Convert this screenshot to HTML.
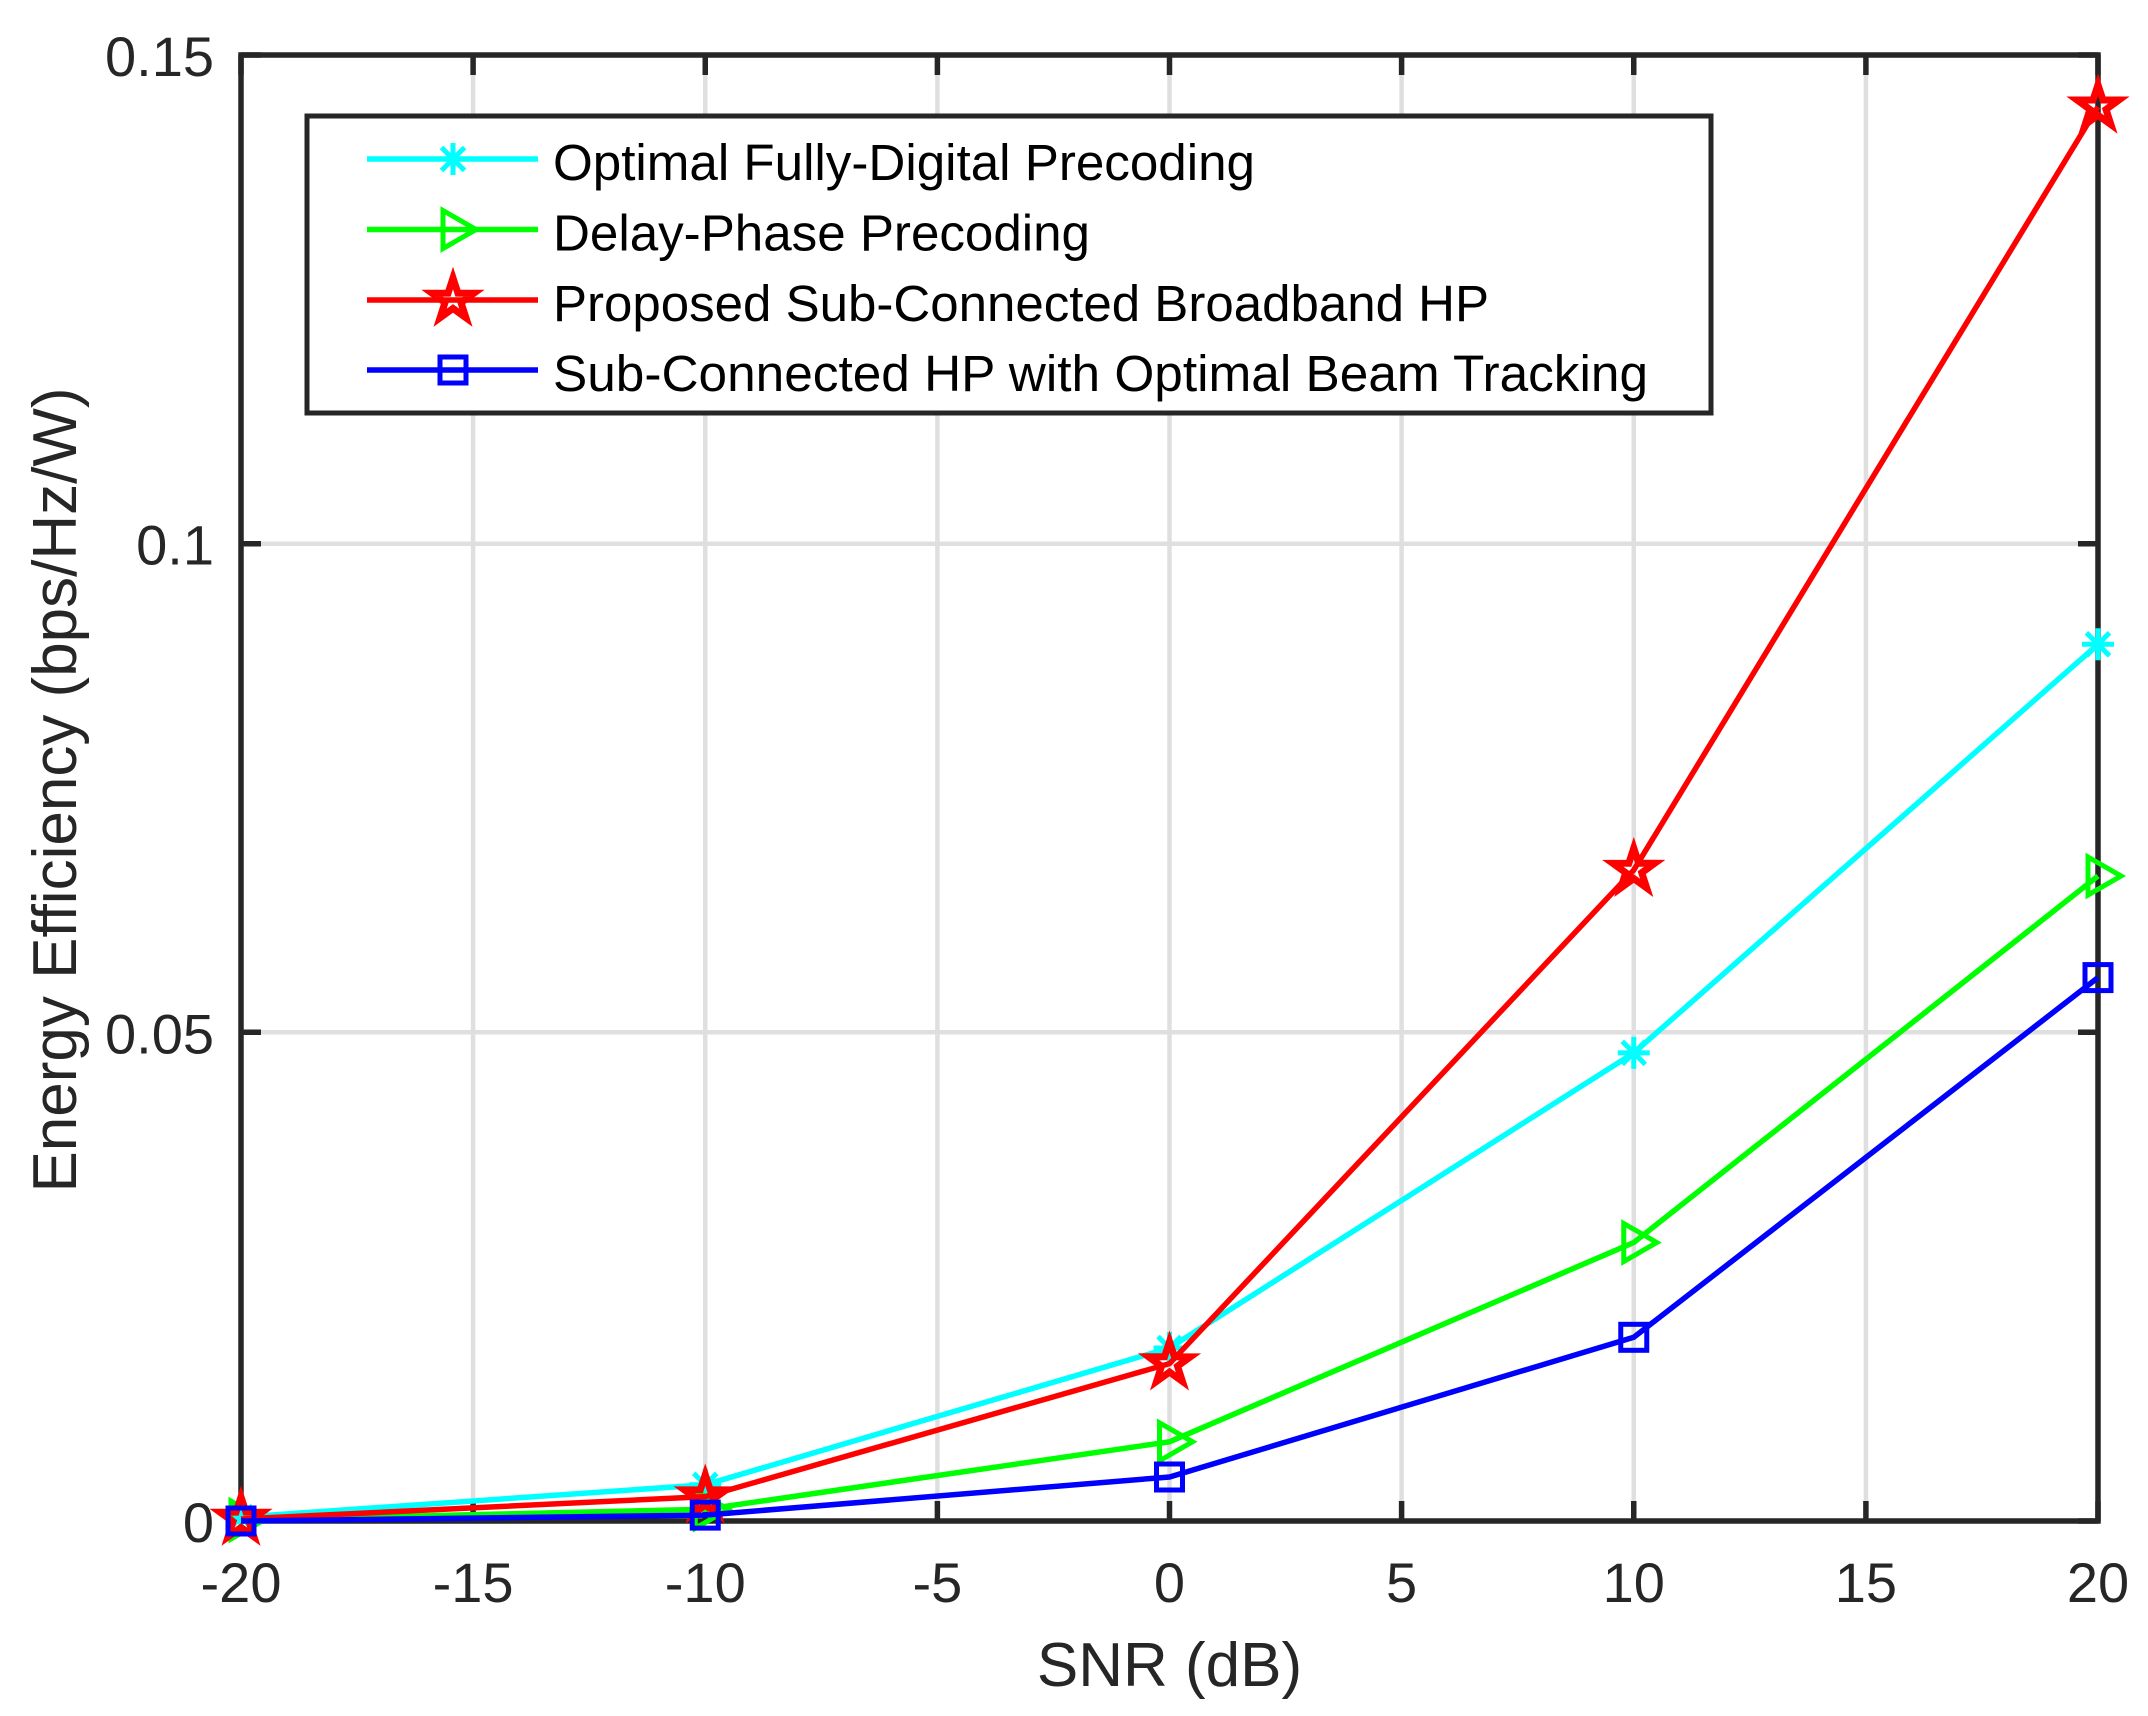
<!DOCTYPE html>
<html>
<head>
<meta charset="utf-8">
<style>
  html, body { margin: 0; padding: 0; background: #ffffff; }
  svg { display: block; }
  text { font-family: "Liberation Sans", Arial, Helvetica, sans-serif; }
</style>
</head>
<body>
<svg xmlns="http://www.w3.org/2000/svg" width="2148" height="1716" viewBox="0 0 2148 1716">
  <defs>
    <path id="star" d="M0,-22 L4.96,-6.82 L20.92,-6.80 L8.02,2.60 L12.93,17.80 L0,8.43 L-12.93,17.80 L-8.02,2.60 L-20.92,-6.80 L-4.96,-6.82 Z"/>
    <path id="ast" d="M0,-16 V16 M-16,0 H16 M-11.5,-11.5 L11.5,11.5 M-11.5,11.5 L11.5,-11.5"/>
    <path id="tri" d="M-10,-19 L23,0 L-10,19 Z"/>
    <rect id="sq" x="-13" y="-13" width="26" height="26"/>
  </defs>
  <rect x="0" y="0" width="2148" height="1716" fill="#ffffff"/>

  <!-- grid -->
  <g stroke="#dfdfdf" stroke-width="4.5" fill="none">
    <line x1="473.1" y1="55" x2="473.1" y2="1521"/>
    <line x1="705.25" y1="55" x2="705.25" y2="1521"/>
    <line x1="937.4" y1="55" x2="937.4" y2="1521"/>
    <line x1="1169.5" y1="55" x2="1169.5" y2="1521"/>
    <line x1="1401.6" y1="55" x2="1401.6" y2="1521"/>
    <line x1="1633.75" y1="55" x2="1633.75" y2="1521"/>
    <line x1="1865.9" y1="55" x2="1865.9" y2="1521"/>
    <line x1="241" y1="1032.3" x2="2098" y2="1032.3"/>
    <line x1="241" y1="543.7" x2="2098" y2="543.7"/>
  </g>

  <!-- axes box and ticks -->
  <g stroke="#262626" stroke-width="5.5" fill="none">
    <rect x="241" y="55" width="1857" height="1466"/>
    <path d="M241,1521 v-20 M473.1,1521 v-20 M705.25,1521 v-20 M937.4,1521 v-20 M1169.5,1521 v-20 M1401.6,1521 v-20 M1633.75,1521 v-20 M1865.9,1521 v-20 M2098,1521 v-20"/>
    <path d="M241,55 v20 M473.1,55 v20 M705.25,55 v20 M937.4,55 v20 M1169.5,55 v20 M1401.6,55 v20 M1633.75,55 v20 M1865.9,55 v20 M2098,55 v20"/>
    <path d="M241,1521 h20 M241,1032.3 h20 M241,543.7 h20 M241,55 h20"/>
    <path d="M2098,1521 h-20 M2098,1032.3 h-20 M2098,543.7 h-20 M2098,55 h-20"/>
  </g>

  <!-- tick labels -->
  <g fill="#262626" font-size="56">
    <g text-anchor="end">
      <text x="214" y="76">0.15</text>
      <text x="214" y="564.7">0.1</text>
      <text x="214" y="1053.3">0.05</text>
      <text x="214" y="1542">0</text>
    </g>
    <g text-anchor="middle">
      <text x="241" y="1602">-20</text>
      <text x="473.1" y="1602">-15</text>
      <text x="705.25" y="1602">-10</text>
      <text x="937.4" y="1602">-5</text>
      <text x="1169.5" y="1602">0</text>
      <text x="1401.6" y="1602">5</text>
      <text x="1633.75" y="1602">10</text>
      <text x="1865.9" y="1602">15</text>
      <text x="2098" y="1602">20</text>
    </g>
  </g>

  <!-- axis labels -->
  <text x="1169.5" y="1686" font-size="62" fill="#262626" text-anchor="middle">SNR (dB)</text>
  <text transform="translate(76,790) rotate(-90)" font-size="62" fill="#262626" text-anchor="middle">Energy Efficiency (bps/Hz/W)</text>

  <!-- series: cyan -->
  <g stroke="#00ffff" stroke-width="5.5" fill="none" stroke-linejoin="round">
    <polyline points="241,1517.1 705.25,1484.8 1169.5,1348.0 1633.75,1052.9 2098,644.3"/>
    <g stroke-width="5">
      <use href="#ast" x="241" y="1517.1"/>
      <use href="#ast" x="705.25" y="1484.8"/>
      <use href="#ast" x="1169.5" y="1348.0"/>
      <use href="#ast" x="1633.75" y="1052.9"/>
      <use href="#ast" x="2098" y="644.3"/>
    </g>
  </g>
  <!-- series: green -->
  <g stroke="#00ff00" stroke-width="5.5" fill="none" stroke-linejoin="miter">
    <polyline points="241,1520.0 705.25,1509.3 1169.5,1441.8 1633.75,1242.5 2098,876.0"/>
    <g stroke-width="5">
      <use href="#tri" x="241" y="1520.0"/>
      <use href="#tri" x="705.25" y="1509.3"/>
      <use href="#tri" x="1169.5" y="1441.8"/>
      <use href="#tri" x="1633.75" y="1242.5"/>
      <use href="#tri" x="2098" y="876.0"/>
    </g>
  </g>
  <!-- series: red -->
  <g stroke="#ff0000" stroke-width="5.5" fill="none" stroke-linejoin="miter">
    <polyline points="241,1519.0 705.25,1496.6 1169.5,1363.6 1633.75,870.1 2098,106.8"/>
    <g stroke-width="7">
      <use href="#star" x="241" y="1519.0"/>
      <use href="#star" x="705.25" y="1496.6"/>
      <use href="#star" x="1169.5" y="1363.6"/>
      <use href="#star" x="1633.75" y="870.1"/>
      <use href="#star" x="2098" y="106.8"/>
    </g>
  </g>
  <!-- series: blue -->
  <g stroke="#0000ff" stroke-width="5.5" fill="none" stroke-linejoin="miter">
    <polyline points="241,1521 705.25,1515.1 1169.5,1477.0 1633.75,1337.3 2098,977.6"/>
    <g stroke-width="5">
      <use href="#sq" x="241" y="1521"/>
      <use href="#sq" x="705.25" y="1515.1"/>
      <use href="#sq" x="1169.5" y="1477.0"/>
      <use href="#sq" x="1633.75" y="1337.3"/>
      <use href="#sq" x="2098" y="977.6"/>
    </g>
  </g>

  <!-- legend -->
  <rect x="307" y="116" width="1404" height="297" fill="#ffffff" stroke="#262626" stroke-width="5"/>
  <g stroke-width="5.5" fill="none">
    <g stroke="#00ffff">
      <line x1="367" y1="159" x2="538" y2="159"/>
      <use href="#ast" x="453" y="159" stroke-width="5"/>
    </g>
    <g stroke="#00ff00">
      <line x1="367" y1="229.5" x2="538" y2="229.5"/>
      <use href="#tri" x="453" y="229.5" stroke-width="5"/>
    </g>
    <g stroke="#ff0000">
      <line x1="367" y1="300" x2="538" y2="300"/>
      <use href="#star" x="453" y="300" stroke-width="7"/>
    </g>
    <g stroke="#0000ff">
      <line x1="367" y1="370" x2="538" y2="370"/>
      <use href="#sq" x="453" y="370" stroke-width="5"/>
    </g>
  </g>
  <g fill="#000000" font-size="51">
    <text x="553" y="180" textLength="702" lengthAdjust="spacingAndGlyphs">Optimal Fully-Digital Precoding</text>
    <text x="553" y="250.5" textLength="537" lengthAdjust="spacingAndGlyphs">Delay-Phase Precoding</text>
    <text x="553" y="321" textLength="936" lengthAdjust="spacingAndGlyphs">Proposed Sub-Connected Broadband HP</text>
    <text x="553" y="391" textLength="1095" lengthAdjust="spacingAndGlyphs">Sub-Connected HP with Optimal Beam Tracking</text>
  </g>
</svg>
</body>
</html>
